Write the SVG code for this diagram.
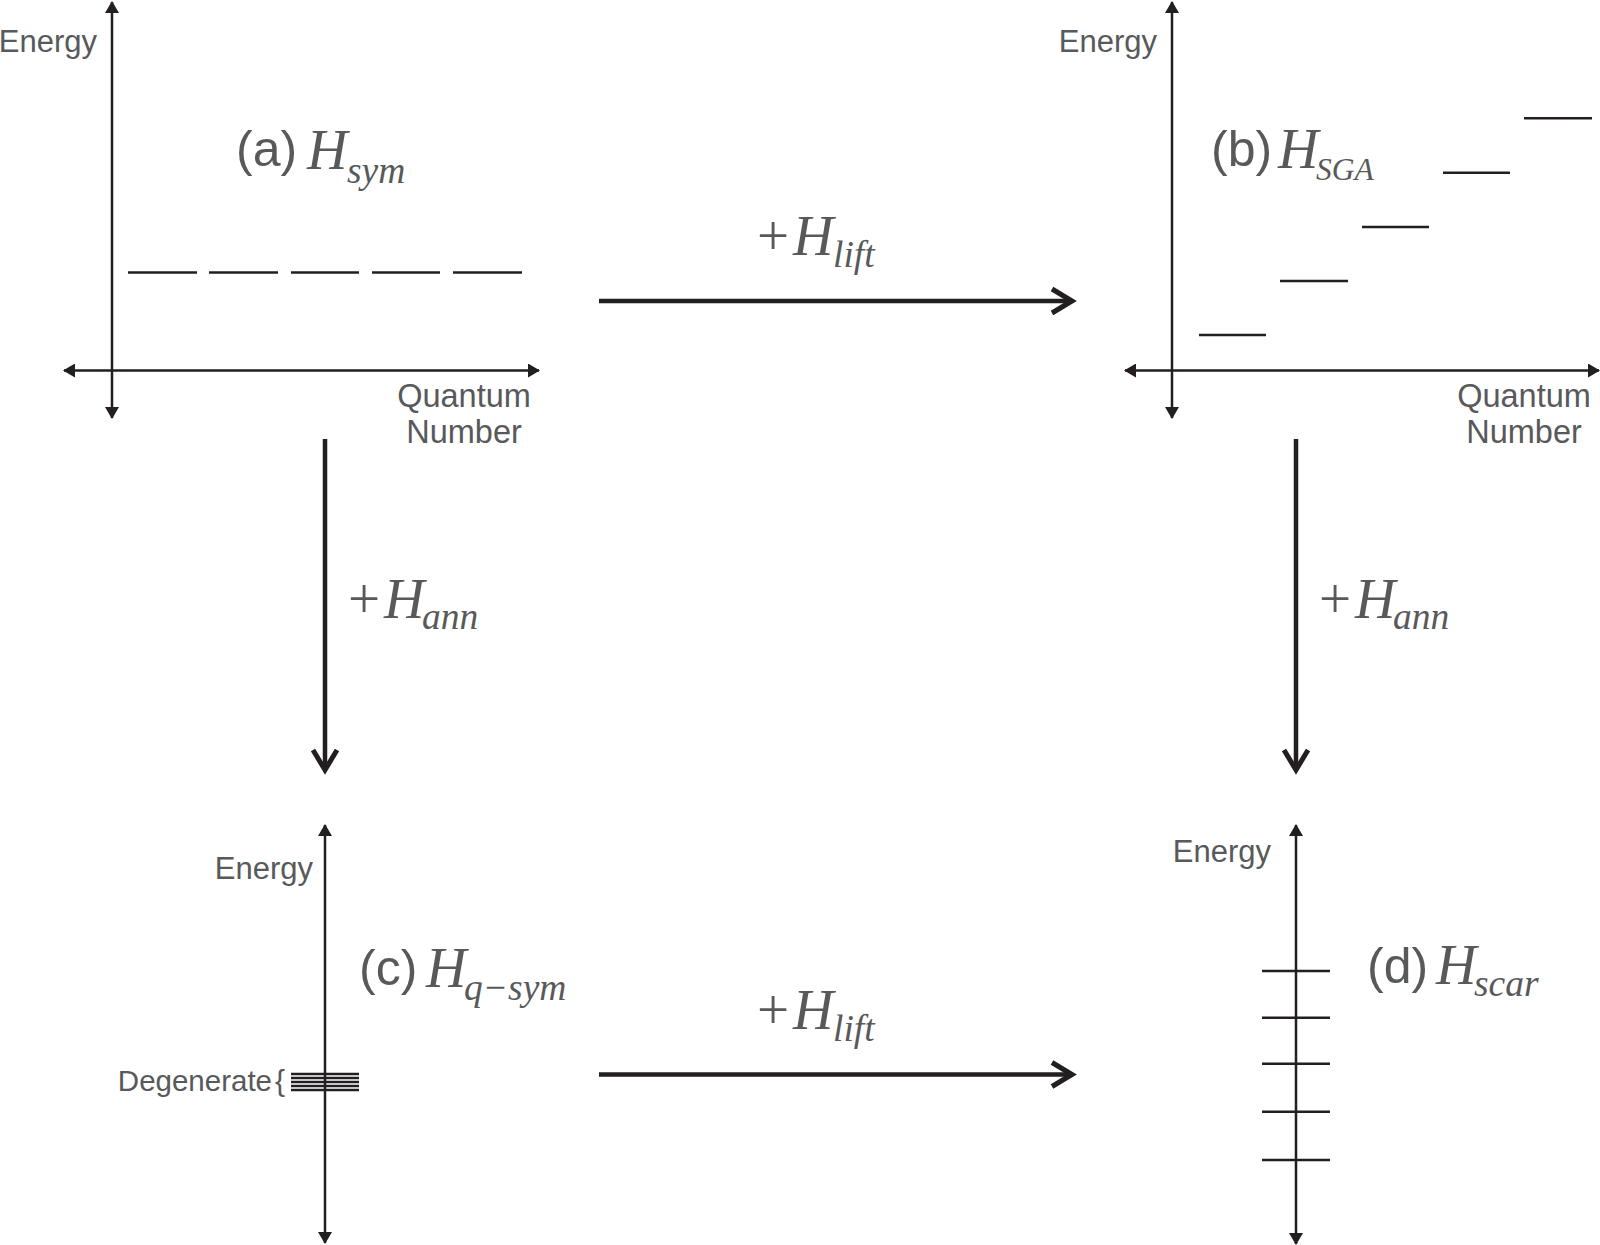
<svg xmlns="http://www.w3.org/2000/svg" width="1600" height="1245" viewBox="0 0 1600 1245">
<defs>
<style>
.ax{stroke:#231f20;stroke-width:2.5;fill:none}
.lv{stroke:#231f20;stroke-width:2.6;fill:none}
.dg{stroke:#231f20;stroke-width:2.4;fill:none}
.cn{stroke:#231f20;stroke-width:4.5;fill:none}
.hd{stroke:#231f20;stroke-width:5;fill:none;stroke-linejoin:miter;stroke-miterlimit:10}
.lb{font-family:"Liberation Sans",Arial,sans-serif;font-size:31px;fill:#58595b}
.qn{font-family:"Liberation Sans",Arial,sans-serif;font-size:32.5px;fill:#58595b}
.pl{font-family:"Liberation Sans",Arial,sans-serif;font-size:50px;fill:#58595b}
.mh{font-family:"Liberation Serif","Times New Roman",serif;font-style:italic;font-size:56px;fill:#58595b}
.ms{font-family:"Liberation Serif","Times New Roman",serif;font-style:italic;font-size:37.5px;fill:#58595b}
.mp{font-family:"Liberation Serif","Times New Roman",serif;font-size:57px;fill:#58595b}
</style>
<marker id="ah" viewBox="0 0 12 14" refX="11" refY="7" markerWidth="12" markerHeight="14" markerUnits="userSpaceOnUse" orient="auto-start-reverse">
<path d="M0,0 L12,7 L0,14 Z" fill="#231f20"/>
</marker>
</defs>
<rect width="1600" height="1245" fill="#ffffff"/>

<g id="panel-a">
<line class="ax" x1="112" y1="418" x2="112" y2="2" marker-start="url(#ah)" marker-end="url(#ah)"/>
<line class="ax" x1="64" y1="370.5" x2="539" y2="370.5" marker-start="url(#ah)" marker-end="url(#ah)"/>
<text class="lb" x="97" y="52" text-anchor="end">Energy</text>
<text class="qn" x="464" y="407" text-anchor="middle">Quantum</text>
<text class="qn" x="464" y="443" text-anchor="middle">Number</text>
<text class="pl" x="236" y="166">(a)</text>
<text class="mh" x="307" y="169">H</text>
<text class="ms" x="347" y="183">sym</text>
<path class="lv" d="M128,272.5H197M209,272.5H278M291,272.5H359M372,272.5H440M453,272.5H522"/>
</g>

<g id="panel-b">
<line class="ax" x1="1172" y1="418" x2="1172" y2="2" marker-start="url(#ah)" marker-end="url(#ah)"/>
<line class="ax" x1="1125" y1="370.5" x2="1599" y2="370.5" marker-start="url(#ah)" marker-end="url(#ah)"/>
<text class="lb" x="1157" y="52" text-anchor="end">Energy</text>
<text class="qn" x="1524" y="407" text-anchor="middle">Quantum</text>
<text class="qn" x="1524" y="443" text-anchor="middle">Number</text>
<text class="pl" x="1211" y="166">(b)</text>
<text class="mh" x="1278" y="168">H</text>
<text class="ms" x="1316" y="180" style="font-size:31.5px">SGA</text>
<path class="lv" d="M1199,335H1266M1280,281H1348M1362,227H1429M1443,172.7H1510M1524,118.3H1592"/>
</g>

<g id="panel-c">
<line class="ax" x1="325" y1="1243" x2="325" y2="825" marker-start="url(#ah)" marker-end="url(#ah)"/>
<text class="lb" x="313" y="879" text-anchor="end">Energy</text>
<text class="pl" x="359" y="985">(c)</text>
<text class="mh" x="426" y="987">H</text>
<text class="ms" x="464" y="1000">q−sym</text>
<text class="lb" x="272" y="1091" text-anchor="end" style="font-size:29.5px">Degenerate</text>
<text class="lb" x="275" y="1091" style="font-size:30px">{</text>
<path class="dg" d="M291,1074H359M291,1078H359M291,1082H359M291,1086H359M291,1090H359"/>
</g>

<g id="panel-d">
<line class="ax" x1="1296" y1="1244" x2="1296" y2="825" marker-start="url(#ah)" marker-end="url(#ah)"/>
<text class="lb" x="1271" y="862" text-anchor="end">Energy</text>
<text class="pl" x="1367" y="983">(d)</text>
<text class="mh" x="1436" y="984">H</text>
<text class="ms" x="1474" y="996">scar</text>
<path class="lv" d="M1262,971H1330M1262,1017.7H1330M1262,1063.7H1330M1262,1111.7H1330M1262,1160H1330"/>
</g>

<g id="connectors">
<g id="arrow-a-b">
<line class="cn" x1="599" y1="301" x2="1071" y2="301"/>
<path class="hd" d="M1052,289L1072,301L1052,313"/>
<text class="mp" x="757" y="255">+</text>
<text class="mh" x="793" y="255">H</text>
<text class="ms" x="833" y="267">lift</text>
</g>
<g id="arrow-c-d">
<line class="cn" x1="599" y1="1074.5" x2="1071" y2="1074.5"/>
<path class="hd" d="M1052,1062.5L1072,1074.5L1052,1086.5"/>
<text class="mp" x="757" y="1028.5">+</text>
<text class="mh" x="793" y="1028.5">H</text>
<text class="ms" x="833" y="1040.5">lift</text>
</g>
<g id="arrow-a-c">
<line class="cn" x1="325" y1="439" x2="325" y2="769"/>
<path class="hd" d="M313,750L325,770L337,750"/>
<text class="mp" x="348" y="618">+</text>
<text class="mh" x="384" y="618">H</text>
<text class="ms" x="422" y="629">ann</text>
</g>
<g id="arrow-b-d">
<line class="cn" x1="1296" y1="439" x2="1296" y2="769"/>
<path class="hd" d="M1284,750L1296,770L1308,750"/>
<text class="mp" x="1319" y="618">+</text>
<text class="mh" x="1355" y="618">H</text>
<text class="ms" x="1393" y="629">ann</text>
</g>
</g>
</svg>
